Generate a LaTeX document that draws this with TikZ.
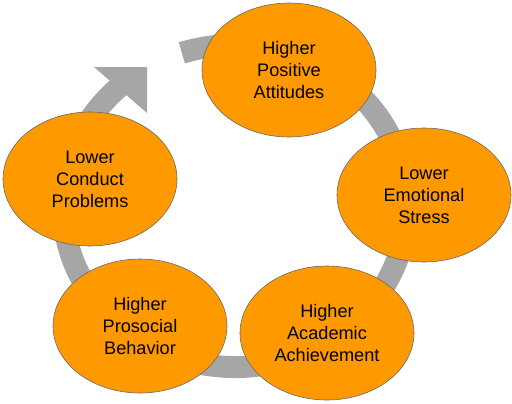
\documentclass[tikz,border=0pt]{standalone}
\usepackage{fontspec}
\setmainfont{Liberation Sans}
\usepackage{tikz}
\usetikzlibrary{shapes.geometric}
\definecolor{stageorange}{RGB}{255,153,0}
\definecolor{cyclegray}{RGB}{166,166,166}

\begin{document}
\begin{tikzpicture}[x=0.3mm, y=-0.3mm,
  stage/.style={ellipse, draw=gray!80!black, line width=0.5pt, fill=stageorange,
    minimum width=52.2mm, minimum height=40.2mm, inner sep=0pt, align=center,
    font=\fontsize{15.5}{18.8}\selectfont}]
%Frame
\useasboundingbox (0,0) rectangle (512,403);

%Cycle arrow
\draw[cyclegray, line width=6.6mm] (235,206) ++(-108:172 and 161)
  arc[start angle=-108, end angle=228, x radius=172, y radius=161];
\fill[cyclegray] (147,67) -- (94,67) -- (147,113) -- cycle;

%Stages
\node[stage] (attitudes) at (289,70) {Higher\\Positive\\Attitudes};
\node[stage] (stress) at (424,195) {Lower\\Emotional\\Stress};
\node[stage] (achievement) at (327,333) {Higher\\Academic\\Achievement};
\node[stage] (prosocial) at (140,326) {Higher\\Prosocial\\Behavior};
\node[stage] (conduct) at (90,179) {Lower\\Conduct\\Problems};

\end{tikzpicture}
\end{document}
